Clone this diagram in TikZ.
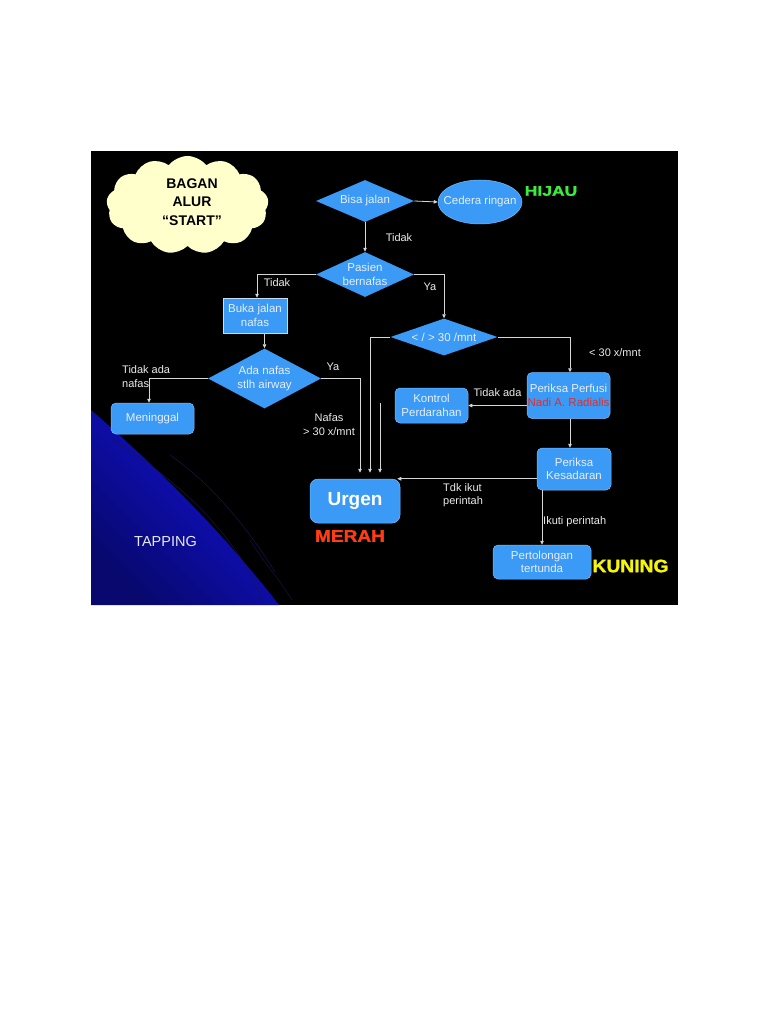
\documentclass[tikz,border=0pt]{standalone}
\usepackage{fontspec}
\usepackage{graphicx}
\setmainfont{Liberation Sans}
\usetikzlibrary{shapes.geometric,shapes.symbols,arrows.meta,calc}
\definecolor{nodeblue}{RGB}{58,154,245}
\definecolor{nodeedge}{RGB}{120,190,255}
\definecolor{nodetext}{RGB}{232,238,245}
\definecolor{linegray}{RGB}{215,215,215}
\definecolor{labelgray}{RGB}{235,235,235}
\definecolor{cloudyellow}{RGB}{255,255,204}
\definecolor{hijau}{RGB}{60,235,60}
\definecolor{merah}{RGB}{255,60,20}
\definecolor{kuning}{RGB}{245,245,10}
\definecolor{nadired}{RGB}{225,45,45}
\definecolor{deepblue}{RGB}{18,18,220}
\definecolor{darkblue}{RGB}{8,8,110}
\definecolor{faintarc}{RGB}{22,22,75}
\begin{document}
\begin{tikzpicture}[x=1pt,y=-1pt,
  intext/.style={text=nodetext, font=\fontsize{11.5}{13.5}\selectfont, align=center, inner sep=0pt},
  flow/.style={fill=nodeblue, draw=nodeedge, line width=0.5pt, intext},
  dia/.style={flow, diamond, draw=none, inner sep=0pt},
  box/.style={flow, rectangle, rounded corners=5pt},
  conn/.style={draw=linegray, line width=0.8pt},
  arr/.style={conn, -{Triangle[length=4pt,width=3.5pt]}},
  lbl/.style={text=labelgray, font=\fontsize{11}{13.5}\selectfont, inner sep=0pt},
  tag/.style={inner sep=0pt}]
\useasboundingbox (0,0) rectangle (768,1024);
\fill[white] (0,0) rectangle (768,1024);
\fill[black] (91,151) rectangle (678,605);
% blue globe corner
\shade[top color=deepblue, bottom color=darkblue, shading angle=-45]
  (91,410) .. controls (160,470) and (225,535) .. (279,605) -- (91,605) -- cycle;
\draw[faintarc, line width=0.5pt] (112,440) .. controls (180,480) and (240,540) .. (262,600);
\draw[faintarc, line width=0.5pt] (170,455) .. controls (220,490) and (255,540) .. (275,572);
\draw[faintarc, line width=0.4pt] (250,540) .. controls (262,560) and (280,580) .. (292,600);

% cloud
\node[cloud, cloud puffs=13, cloud puff arc=105, aspect=1.65, fill=cloudyellow, draw=none,
      minimum width=162pt, minimum height=98pt, inner sep=0pt] (cloud) at (187.5,205) {};
\node[text=black, font=\bfseries\fontsize{14}{18.5}\selectfont, align=center, inner sep=0pt] (title) at (192,202) {BAGAN\\ALUR\\“START”};

% nodes
\node[dia, minimum width=98pt, minimum height=42pt, label={[intext]center:Bisa jalan}] (bisa) at (365,201) {};
\node[flow, ellipse, minimum width=84pt, minimum height=44pt, label={[intext]center:Cedera ringan}] (cedera) at (480,202) {};
\node[dia, minimum width=98pt, minimum height=45pt, label={[intext]center:Pasien\\bernafas}] (pasien) at (365,274.5) {};
\node[flow, rectangle, draw={rgb,255:red,195;green,222;blue,250}, minimum width=64pt, minimum height=35pt] (buka) at (255,315.5) {Buka jalan\\nafas};
\node[dia, minimum width=113pt, minimum height=60pt, label={[intext]center:Ada nafas\\stlh airway}] (ada) at (264.5,378.5) {};
\node[box, minimum width=83pt, minimum height=31pt] (meninggal) at (152.5,418.5) {Meninggal};
\node[dia, minimum width=107pt, minimum height=37pt, label={[intext]center:< / > 30 /mnt}] (mnt) at (444,337) {};
\node[box, minimum width=83pt, minimum height=46pt] (perfusi) at (568.5,395.5) {Periksa Perfusi\\{\color{nadired}Nadi A. Radialis}};
\node[box, minimum width=73pt, minimum height=35pt] (kontrol) at (431.5,405.5) {Kontrol\\Perdarahan};
\node[box, minimum width=74pt, minimum height=42pt] (kesadaran) at (574,469) {Periksa\\Kesadaran};
\node[box, minimum width=98pt, minimum height=34pt] (tertunda) at (542,562) {Pertolongan\\tertunda};
\node[box, rounded corners=8pt, minimum width=90pt, minimum height=44pt, font=\bfseries\fontsize{19}{22}\selectfont, text=white] (urgen) at (355,501) {Urgen};

% colour tags
\node[tag, text=hijau, font=\bfseries\fontsize{14}{16}\selectfont\addfontfeature{FakeBold=1.5}] (thijau) at (551,191) {\scalebox{1.25}[1]{HIJAU}};
\node[tag, text=merah, font=\bfseries\fontsize{17}{19}\selectfont\addfontfeature{FakeBold=1.5}] (tmerah) at (350,536) {\scalebox{1.12}[1]{MERAH}};
\node[tag, text=kuning, font=\bfseries\fontsize{18}{20}\selectfont\addfontfeature{FakeBold=1.5}] (tkuning) at (630.5,566) {\scalebox{1.07}[1]{KUNING}};
\node[text={rgb,255:red,232;green,232;blue,240}, font=\fontsize{14.5}{16}\selectfont, inner sep=0pt] (tapping) at (165.5,542) {TAPPING};

% connector labels
\node[lbl] (ltidak1) at (399,238) {Tidak};
\node[lbl] (ltidak2) at (277,283) {Tidak};
\node[lbl] (lya1) at (430,287) {Ya};
\node[lbl, align=left, anchor=west] (ltidakada1) at (122,376.5) {Tidak ada\\nafas};
\node[lbl] (lya2) at (333,367) {Ya};
\node[lbl, align=center, font=\fontsize{11}{14}\selectfont] (lnafas) at (329,424.5) {Nafas\\> 30 x/mnt};
\node[lbl] (llt30) at (615,353) {< 30 x/mnt};
\node[lbl] (ltidakada2) at (497.5,393) {Tidak ada};
\node[lbl, align=left, anchor=west] (ltdk) at (443,495) {Tdk ikut\\perintah};
\node[lbl, anchor=west] (likuti) at (543,522) {Ikuti perintah};

% connectors
\draw[arr] (bisa.east) -- (cedera.west);
\draw[arr] (bisa.south) -- (pasien.north);
\draw[arr] (pasien.west) -| ([xshift=2pt]buka.north);
\draw[arr] (pasien.east) -| (mnt.north);
\draw[arr] (ada.north |- buka.south) -- (ada.north);
\draw[arr] (ada.west) -| ([xshift=-3.5pt]meninggal.north);
\draw[arr, shorten >=6pt] (ada.east) -| ([xshift=5pt]urgen.north);
\draw[arr, shorten >=6pt] (mnt.west) -| ([xshift=15pt]urgen.north);
\coordinate (kstart) at (380,403);
\draw[arr, shorten >=6pt] (kstart) -- (kstart |- urgen.north);
\draw[arr] (mnt.east) -| ([xshift=1.5pt]perfusi.north);
\draw[arr] (kontrol.east -| perfusi.west) -- (kontrol.east);
\draw[arr] ([xshift=1.5pt]perfusi.south) -- ([xshift=1.5pt]perfusi.south |- kesadaran.north);
\draw[arr] (urgen.north east -| kesadaran.west) -- ([xshift=-3pt]urgen.north east);
\draw[arr] (tertunda.north |- kesadaran.south) -- (tertunda.north);
\end{tikzpicture}
\end{document}
